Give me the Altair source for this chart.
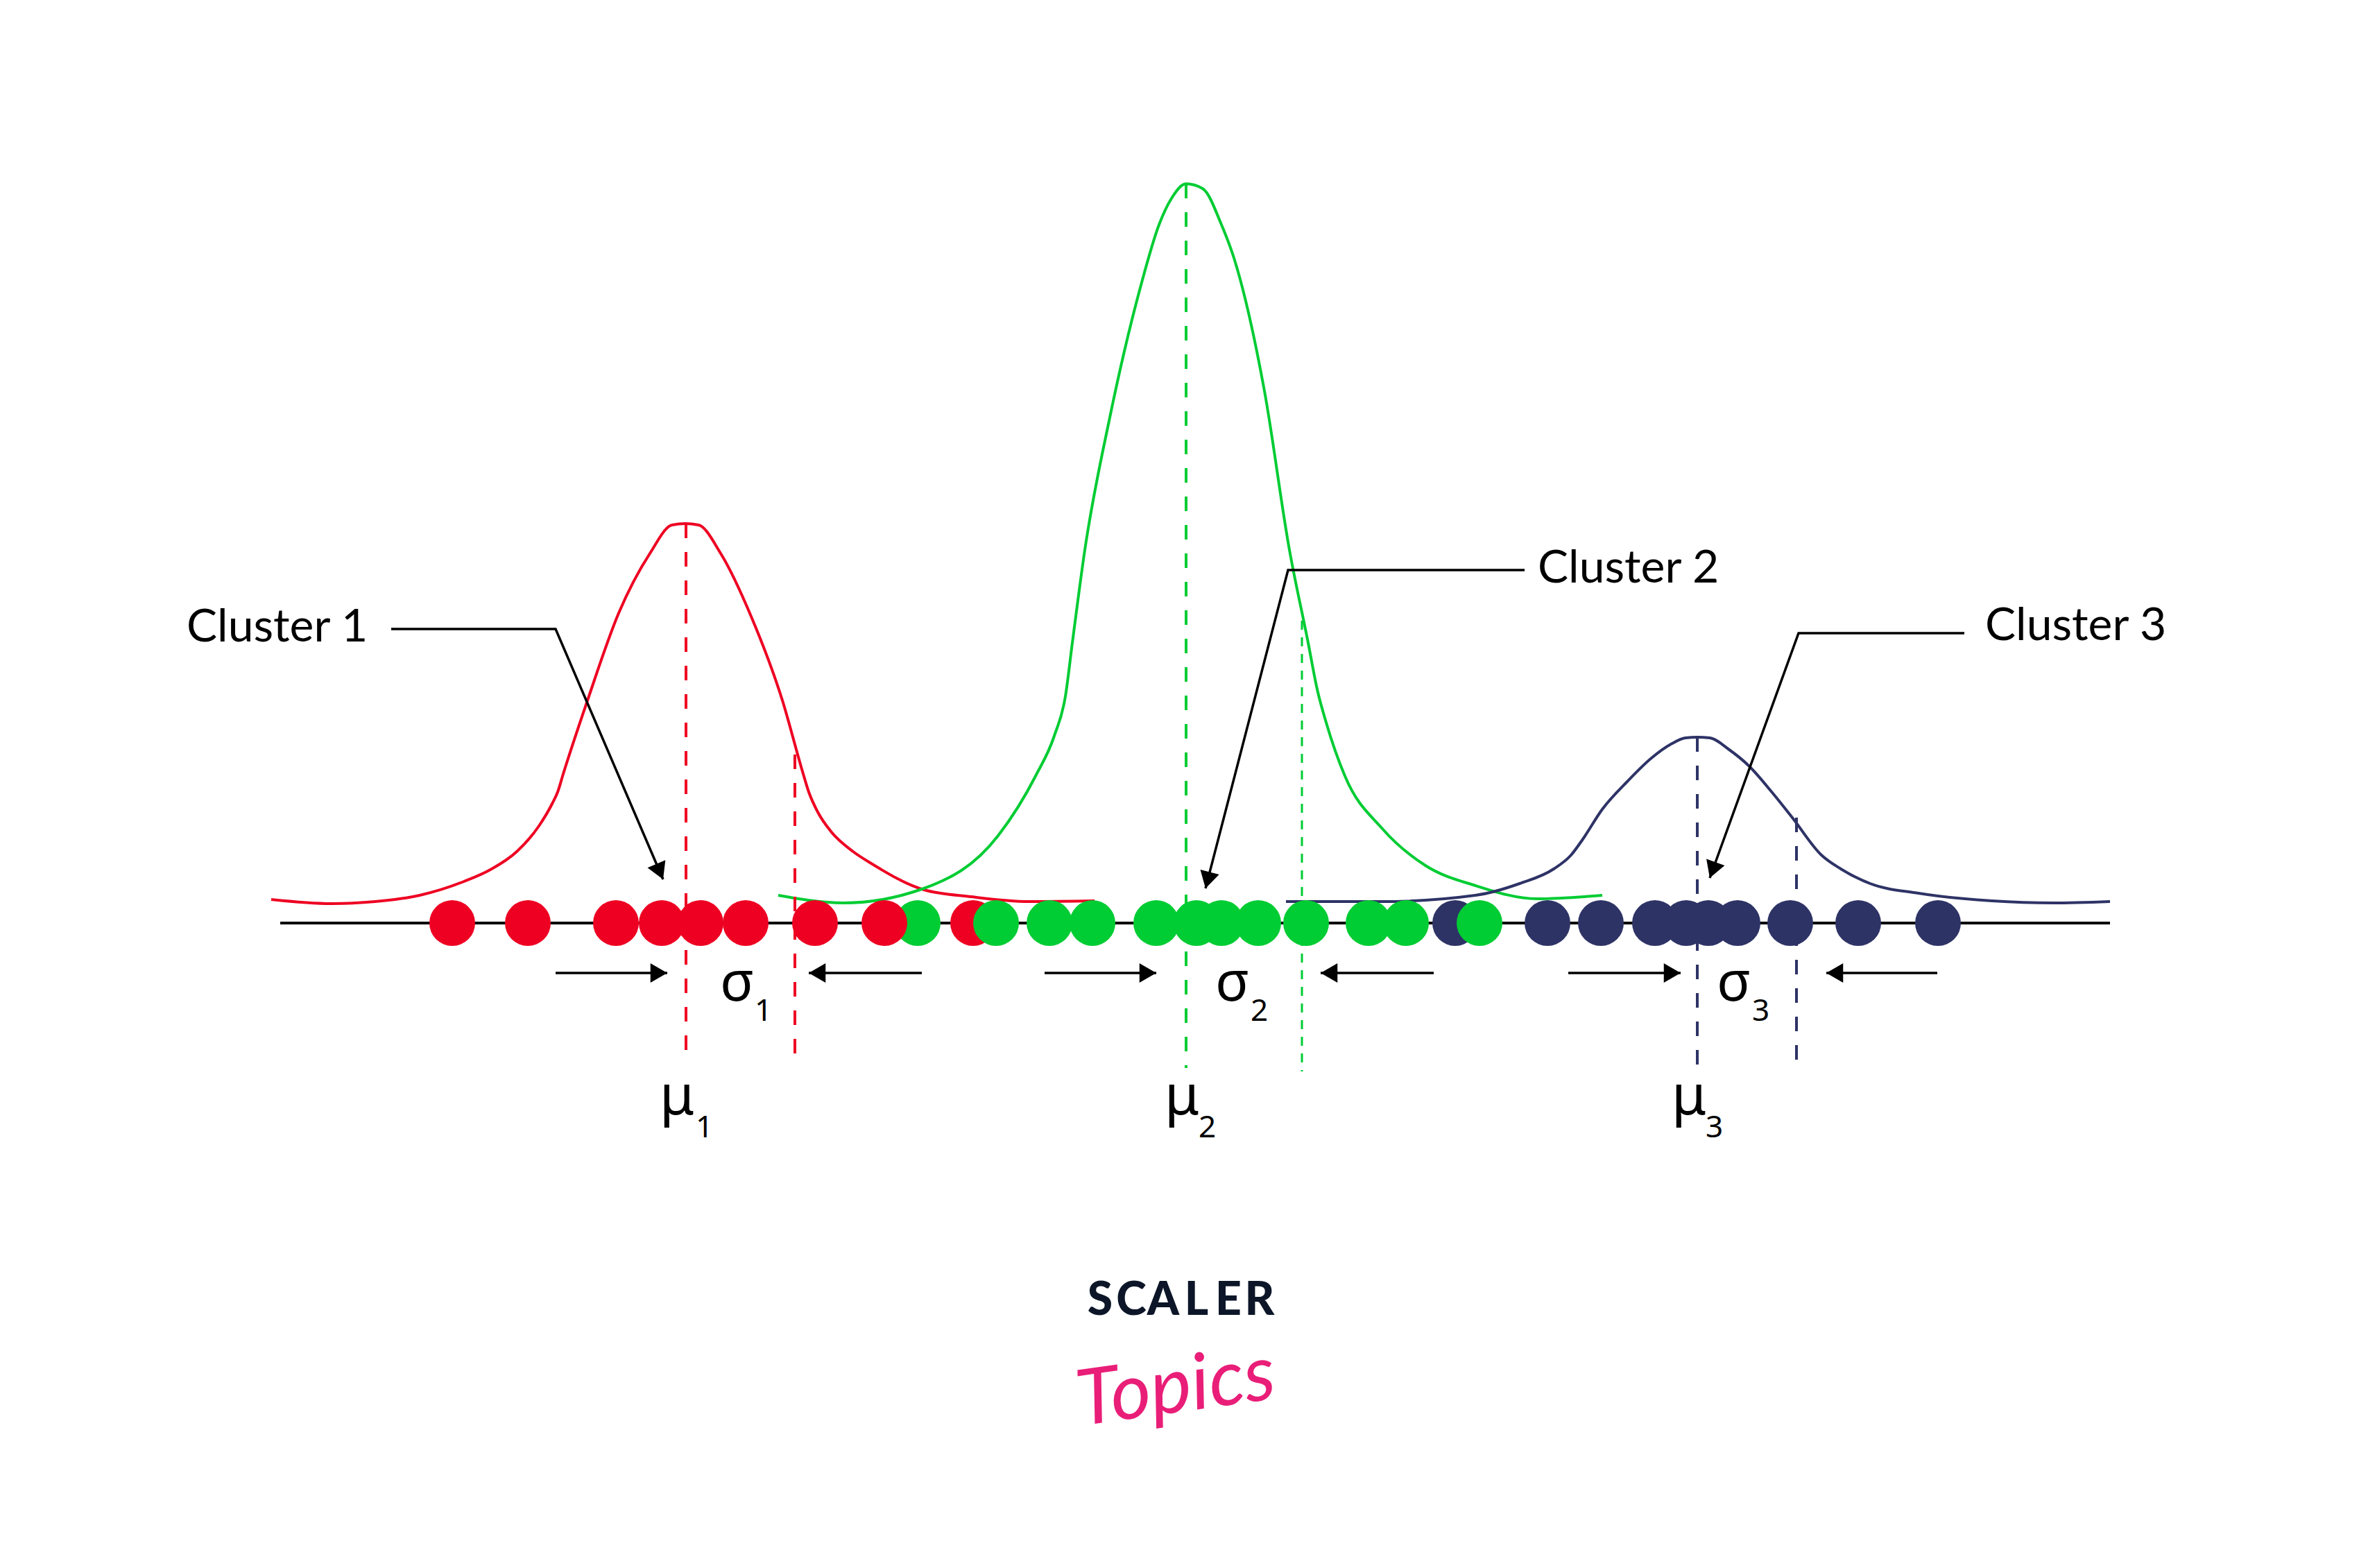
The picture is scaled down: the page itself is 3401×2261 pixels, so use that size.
import math
import altair as alt
import pandas as pd

# ---------------- canvas (data units = page pixels of the reference) ----------
W, H = 3370, 2230
OX, OY = 8, 8

RED = "#EE0022"
GREEN = "#00CC33"
NAVY = "#2E3366"
INK = "#000000"
LOGO_DARK = "#0C1628"
LOGO_PINK = "#E91E78"

# ---------------- number line -------------------------------------------------
axis_x = [404, 3042]
axis_y = [1331, 1331]

# ---------------- density curves ----------------------------------------------
red_x = [391, 478, 541, 605, 669, 707, 745, 777, 796, 804, 812, 847, 892, 937, 969,
         988, 1007, 1039, 1083, 1128, 1158, 1166, 1179, 1198, 1230, 1256, 1332, 1400,
         1484, 1578]
red_y = [1297, 1303, 1300, 1291, 1271, 1254, 1228, 1191, 1159, 1142, 1116, 1010, 884,
         798, 757, 755, 757, 798, 889, 1010, 1116, 1142, 1171, 1199, 1228, 1245, 1283,
         1293, 1300, 1299]

green_x = [1122, 1216, 1332, 1439, 1493, 1520, 1536, 1546, 1564, 1600, 1645, 1671,
           1689, 1710, 1734, 1761, 1779, 1823, 1859, 1886, 1899, 1912, 1939, 1993,
           2055, 2127, 2216, 2310]
green_y = [1291, 1302, 1281, 1205, 1119, 1061, 1004, 927, 793, 602, 411, 324, 286,
           265, 272, 324, 372, 564, 793, 927, 994, 1042, 1119, 1195, 1248, 1277, 1296,
           1291]

navy_x = [1854, 1993, 2127, 2191, 2240, 2265, 2282, 2310, 2346, 2381, 2409, 2430,
          2447, 2465, 2493, 2521, 2556, 2584, 2626, 2654, 2696, 2766, 2872, 2960, 3042]
navy_y = [1300, 1300, 1291, 1274, 1253, 1233, 1210, 1167, 1127, 1093, 1073, 1064,
          1063, 1064, 1081, 1104, 1144, 1179, 1233, 1253, 1274, 1288, 1299, 1302, 1300]

# ---------------- data points on the line -------------------------------------
red_pts = [652, 761, 888, 954, 1010, 1075, 1175, 1275, 1403]
green_pts = [1323, 1436, 1513, 1575, 1667, 1725, 1761, 1814, 1883, 1973, 2027, 2133]
navy_pts = [2098, 2231, 2308, 2386, 2431, 2463, 2505, 2581, 2679, 2794]

# ---------------- means and sigma markers -------------------------------------
mu_x = [989, 1710, 2447]
mu_top = [755, 265, 1063]
mu_bottom = [1529, 1540, 1540]
sig_x = [1146, 1877, 2590]
sig_top = [1088, 895, 1179]
sig_bottom = [1529, 1545, 1534]
cluster_colors = [RED, GREEN, NAVY]

# sigma arrows: (start x, tip x) at a common height
sig_arrow_y = 1403
sig_arrows = [(801, 962), (1329, 1166), (1506, 1667), (2067, 1904),
              (2261, 2423), (2793, 2633)]

# cluster callouts: polyline points, last one is the arrow tip
callouts = [
    [(564, 907), (801, 907), (956, 1268)],
    [(2198, 822), (1857, 822), (1738, 1281)],
    [(2832, 913), (2593, 913), (2465, 1266)],
]
cluster_labels = ["Cluster 1", "Cluster 2", "Cluster 3"]
cluster_label_x = [269, 2217, 2862]
cluster_label_y = [925, 840, 923]

sigma_text_x = [1038, 1752, 2475]
sigma_text_y = 1443
sigma_sub_x = [1088, 1803, 2526]
sigma_sub_y = 1472
mu_text_x = [951, 1679, 2410]
mu_text_y = 1607
mu_sub_x = [1003, 1728, 2459]
mu_sub_y = 1640
subs = ["1", "2", "3"]

logo_letters = ["S", "C", "A", "L", "E", "R"]
logo_letter_x = [1586, 1631, 1677, 1725, 1771, 1816]
logo_letter_y = 1896
logo_word = "Topics"
logo_word_x = 1700
logo_word_y = 2036

# ---------------- helpers -----------------------------------------------------
XS = alt.Scale(domain=[OX, OX + W], nice=False, zero=False)
YS = alt.Scale(domain=[OY, OY + H], nice=False, zero=False, reverse=True)


def X(f="x"):
    return alt.X(f"{f}:Q", scale=XS, axis=None)


def Y(f="y"):
    return alt.Y(f"{f}:Q", scale=YS, axis=None)


HEAD_SIZE = 784
HEAD_H = math.sqrt(3) * (math.sqrt(HEAD_SIZE) / 2) / 2

# ---------------- build tables ------------------------------------------------
axis_df = pd.DataFrame({"x": axis_x, "y": axis_y})

curve_rows = []
for cid, (xs, ys, col) in enumerate([(red_x, red_y, RED), (green_x, green_y, GREEN),
                                     (navy_x, navy_y, NAVY)]):
    for xv, yv in zip(xs, ys):
        curve_rows.append({"x": xv, "y": yv, "id": cid, "color": col})
curve_df = pd.DataFrame(curve_rows)

order_seq = ([(green_pts[0], GREEN)] + [(p, RED) for p in red_pts]
             + [(p, GREEN) for p in green_pts[1:-1]] + [(p, NAVY) for p in navy_pts]
             + [(green_pts[-1], GREEN)])
pts_df = pd.DataFrame({"x": [p for p, _ in order_seq],
                       "y": [axis_y[0]] * len(order_seq),
                       "color": [c for _, c in order_seq],
                       "k": list(range(len(order_seq)))})

mu_df = pd.DataFrame({"x": mu_x, "y": mu_top, "y2": mu_bottom, "color": cluster_colors})
sig_df = pd.DataFrame({"x": sig_x, "y": sig_top, "y2": sig_bottom, "color": cluster_colors})

# arrows (shafts + heads)
shaft_rows, head_rows = [], []
aid = 0
for x0, x1 in sig_arrows:
    shaft_rows.append({"x": x0, "y": sig_arrow_y, "id": aid, "k": 0})
    shaft_rows.append({"x": x1, "y": sig_arrow_y, "id": aid, "k": 1})
    d = 1 if x1 > x0 else -1
    head_rows.append({"x": x1 - d * HEAD_H, "y": sig_arrow_y, "angle": 90 if d > 0 else 270})
    aid += 1
for poly in callouts:
    for k, (xv, yv) in enumerate(poly):
        shaft_rows.append({"x": xv, "y": yv, "id": aid, "k": k})
    (xa, ya), (xb, yb) = poly[-2], poly[-1]
    L = math.hypot(xb - xa, yb - ya)
    ux, uy = (xb - xa) / L, (yb - ya) / L
    ang = math.degrees(math.atan2(ux, -uy)) % 360
    head_rows.append({"x": xb - ux * HEAD_H, "y": yb - uy * HEAD_H, "angle": ang})
    aid += 1
shaft_df = pd.DataFrame(shaft_rows)
head_df = pd.DataFrame(head_rows)

label_df = pd.DataFrame({"x": cluster_label_x, "y": cluster_label_y, "t": cluster_labels})
sigma_df = pd.DataFrame({"x": sigma_text_x, "y": [sigma_text_y] * 3, "t": ["σ"] * 3})
sigsub_df = pd.DataFrame({"x": sigma_sub_x, "y": [sigma_sub_y] * 3, "t": subs})
mu_t_df = pd.DataFrame({"x": mu_text_x, "y": [mu_text_y] * 3, "t": ["μ"] * 3})
musub_df = pd.DataFrame({"x": mu_sub_x, "y": [mu_sub_y] * 3, "t": subs})
logo_df = pd.DataFrame({"x": logo_letter_x, "y": [logo_letter_y] * 6, "t": logo_letters})
word_df = pd.DataFrame({"x": [logo_word_x], "y": [logo_word_y], "t": [logo_word]})

# ---------------- layers ------------------------------------------------------
base_line = alt.Chart(axis_df).mark_line(color=INK, strokeWidth=4).encode(x=X(), y=Y())

curves = alt.Chart(curve_df).mark_line(strokeWidth=4, interpolate="monotone").encode(
    x=X(), y=Y(), detail="id:N", color=alt.Color("color:N", scale=None))

dots = alt.Chart(pts_df).mark_point(filled=True, shape="circle", size=4356, opacity=1,
                                    strokeWidth=0).encode(
    x=X(), y=Y(), color=alt.Color("color:N", scale=None), order=alt.Order("k:Q"))

mu_rules = alt.Chart(mu_df).mark_rule(strokeWidth=4, strokeDash=[21, 20]).encode(
    x=X(), y=Y(), y2=alt.Y2("y2:Q"), color=alt.Color("color:N", scale=None))

sig_rules_rn = alt.Chart(sig_df[sig_df["color"] != GREEN]).mark_rule(
    strokeWidth=4, strokeDash=[21, 20]).encode(
    x=X(), y=Y(), y2=alt.Y2("y2:Q"), color=alt.Color("color:N", scale=None))

sig_rules_g = alt.Chart(sig_df[sig_df["color"] == GREEN]).mark_rule(
    strokeWidth=3, strokeDash=[13, 11]).encode(
    x=X(), y=Y(), y2=alt.Y2("y2:Q"), color=alt.Color("color:N", scale=None))

shafts = alt.Chart(shaft_df).mark_line(color=INK, strokeWidth=3.5).encode(
    x=X(), y=Y(), detail="id:N", order=alt.Order("k:Q"))

heads = alt.Chart(head_df).mark_point(shape="triangle-up", filled=True, size=HEAD_SIZE,
                                      color=INK, opacity=1, strokeWidth=0).encode(
    x=X(), y=Y(), angle=alt.Angle("angle:Q", scale=None))

labels = alt.Chart(label_df).mark_text(font="Lato", fontSize=66, align="left",
                                       baseline="alphabetic", color=INK).encode(
    x=X(), y=Y(), text="t:N")

greek_kw = dict(font="Noto Sans", align="left", baseline="alphabetic", color=INK)
sigma_t = alt.Chart(sigma_df).mark_text(fontSize=80, **greek_kw).encode(x=X(), y=Y(), text="t:N")
sigma_s = alt.Chart(sigsub_df).mark_text(fontSize=44, **greek_kw).encode(x=X(), y=Y(), text="t:N")
mu_t = alt.Chart(mu_t_df).mark_text(fontSize=80, **greek_kw).encode(x=X(), y=Y(), text="t:N")
mu_s = alt.Chart(musub_df).mark_text(fontSize=44, **greek_kw).encode(x=X(), y=Y(), text="t:N")

logo_top = alt.Chart(logo_df).mark_text(font="Lato", fontSize=66, fontWeight=900,
                                        align="center", baseline="alphabetic",
                                        color=LOGO_DARK).encode(x=X(), y=Y(), text="t:N")
logo_bottom = alt.Chart(word_df).mark_text(font="Lato", fontSize=112, fontStyle="italic",
                                           align="center", baseline="alphabetic",
                                           angle=352, color=LOGO_PINK).encode(
    x=X(), y=Y(), text="t:N")

chart = alt.layer(
    base_line, curves, dots, mu_rules, sig_rules_rn, sig_rules_g, shafts, heads,
    labels, sigma_t, sigma_s, mu_t, mu_s, logo_top, logo_bottom
).properties(width=W, height=H, padding=0, background="white").configure_view(stroke=None)

chart.save("out.html", embed_options={"renderer": "svg", "actions": False})
